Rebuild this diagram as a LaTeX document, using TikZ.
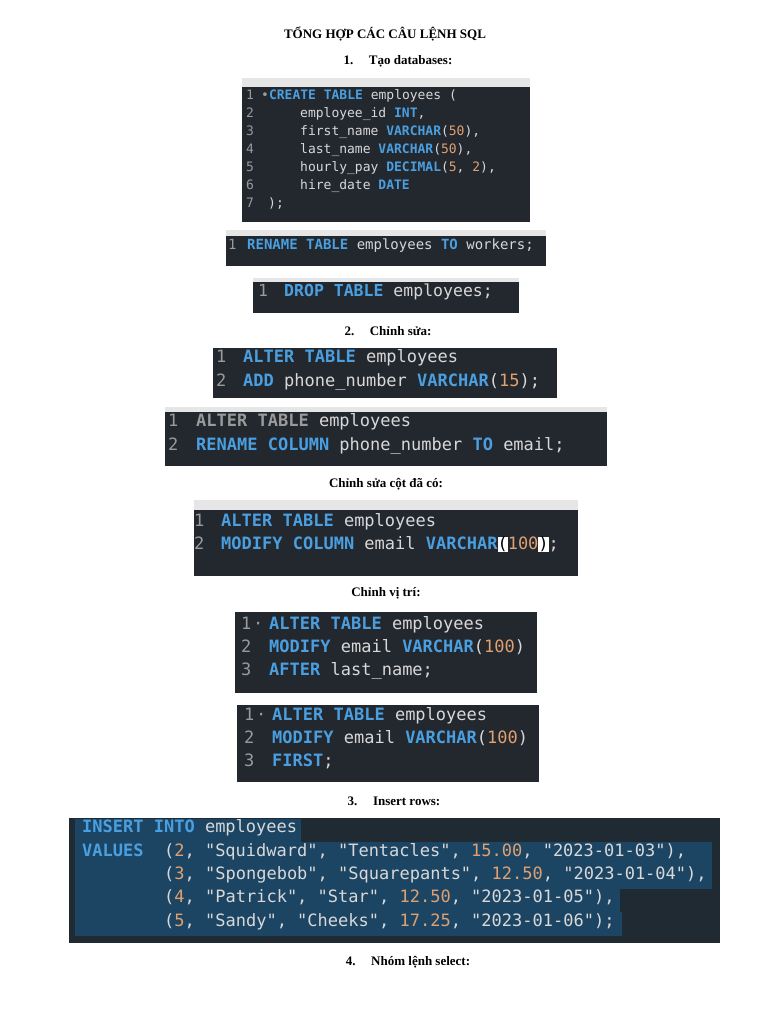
\documentclass[tikz,border=0pt]{standalone}
\usepackage{fontspec}
\setmainfont{Liberation Serif}
\newfontfamily\mono{DejaVu Sans Mono}
\definecolor{bgA}{HTML}{23272E}
\definecolor{bgB}{HTML}{1F2A33}
\definecolor{kw}{HTML}{4A9FE0}
\definecolor{num}{HTML}{E0A070}
\definecolor{txt}{HTML}{D8D8D8}
\definecolor{ln}{HTML}{9A9A9A}
\definecolor{sel}{HTML}{1C4563}
\definecolor{tb}{HTML}{E6E6E6}
\newcommand{\kwd}[1]{\textcolor{kw}{\bfseries #1}}
\newcommand{\nm}[1]{\textcolor{num}{#1}}
\newcommand{\hlb}[1]{{\setlength{\fboxsep}{0pt}\colorbox{white}{\textcolor{black}{#1}}}}
\tikzset{
  cl/.style={anchor=west,inner sep=0pt,text=txt,font=\mono\fontsize{#1}{#1}\selectfont,text height=0.72em,text depth=0.2em},
  lnum/.style={anchor=west,inner sep=0pt,text=ln,font=\mono\fontsize{#1}{#1}\selectfont,text height=0.72em,text depth=0.2em},
  hd/.style={font=\bfseries\fontsize{13}{13}\selectfont,inner sep=0pt},
}
\begin{document}
\begin{tikzpicture}[x=1pt,y=-1pt]
\useasboundingbox[fill=white] (0,0) rectangle (768,1024);
\node[hd] (title) at (385,34) {TỔNG HỢP CÁC CÂU LỆNH SQL};
\node[hd] (h1) at (398,61) {1.\hspace{1.2em}Tạo databases:};
% block 1
\fill[tb] (242,78) rectangle (530,87);
\fill[bgA] (242,87) rectangle (530,222);
\foreach \i/\y in {1/97,2/115,3/133,4/151,5/169,6/187,7/205}
  \node[lnum=13] (b1n\i) at (246,\y) {\i};
\node[cl=13] (b1l1) at (261,97) {\textcolor{ln}{\textbullet}\kwd{CREATE} \kwd{TABLE} employees (};
\node[cl=13] (b1l2) at (300,115) {employee\_id \kwd{INT},};
\node[cl=13] (b1l3) at (300,133) {first\_name \kwd{VARCHAR}(\nm{50}),};
\node[cl=13] (b1l4) at (300,151) {last\_name \kwd{VARCHAR}(\nm{50}),};
\node[cl=13] (b1l5) at (300,169) {hourly\_pay \kwd{DECIMAL}(\nm{5}, \nm{2}),};
\node[cl=13] (b1l6) at (300,187) {hire\_date \kwd{DATE}};
\node[cl=13] (b1l7) at (268,205) {);};
% block 2
\fill[tb] (226,230) rectangle (546,236);
\fill[bgA] (226,236) rectangle (546,266);
\node[lnum=14] (b2n1) at (228,247) {1};
\node[cl=14] (b2l1) at (247,247) {\kwd{RENAME} \kwd{TABLE} employees \kwd{TO} workers;};
% block 3
\fill[tb] (253,278) rectangle (519,282);
\fill[bgA] (253,282) rectangle (519,313);
\node[lnum=16.5] (b3n1) at (258,294) {1};
\node[cl=16.5] (b3l1) at (284,294) {\kwd{DROP} \kwd{TABLE} employees;};
\node[hd] (h2) at (388,331) {2.\hspace{1.2em}Chỉnh sửa:};
% block 4
\fill[bgA] (213,348) rectangle (557,398);
\node[lnum=17] (b4n1) at (216,360) {1};
\node[lnum=17] (b4n2) at (216,384) {2};
\node[cl=17] (b4l1) at (243,360) {\kwd{ALTER} \kwd{TABLE} employees};
\node[cl=17] (b4l2) at (243,384) {\kwd{ADD} phone\_number \kwd{VARCHAR}(\nm{15});};
% block 5
\fill[tb] (165,407) rectangle (607,412);
\fill[bgA] (165,412) rectangle (607,466);
\node[lnum=17] (b5n1) at (168,424) {1};
\node[lnum=17] (b5n2) at (168,448) {2};
\node[cl=17] (b5l1) at (196,424) {\textcolor{ln}{\bfseries ALTER TABLE} employees};
\node[cl=17] (b5l2) at (196,448) {\kwd{RENAME} \kwd{COLUMN} phone\_number \kwd{TO} email;};
\node[hd] (h3) at (386,484) {Chỉnh sửa cột đã có:};
% block 6
\fill[tb] (194,500) rectangle (578,510);
\fill[bgA] (194,510) rectangle (578,576);
\node[lnum=17] (b6n1) at (194,524) {1};
\node[lnum=17] (b6n2) at (194,547) {2};
\node[cl=17] (b6l1) at (221,524) {\kwd{ALTER} \kwd{TABLE} employees};
\node[cl=17] (b6l2) at (221,547) {\kwd{MODIFY} \kwd{COLUMN} email \kwd{VARCHAR}\hlb{(}\nm{100}\hlb{)};};
\node[hd] (h4) at (386,593) {Chỉnh vị trí:};
% block 7
\fill[bgA] (235,612) rectangle (537,693);
\foreach \i/\y in {1/627,2/650,3/673} \node[lnum=17] (b7n\i) at (241,\y) {\i};
\node[cl=17] (b7d) at (253,627) {\textcolor{ln}{\textperiodcentered}};
\node[cl=17] (b7l1) at (269,627) {\kwd{ALTER} \kwd{TABLE} employees};
\node[cl=17] (b7l2) at (269,650) {\kwd{MODIFY} email \kwd{VARCHAR}(\nm{100})};
\node[cl=17] (b7l3) at (269,673) {\kwd{AFTER} last\_name;};
% block 8
\fill[bgA] (237,705) rectangle (539,782);
\foreach \i/\y in {1/718,2/741,3/764} \node[lnum=17] (b8n\i) at (244,\y) {\i};
\node[cl=17] (b8d) at (256,718) {\textcolor{ln}{\textperiodcentered}};
\node[cl=17] (b8l1) at (272,718) {\kwd{ALTER} \kwd{TABLE} employees};
\node[cl=17] (b8l2) at (272,741) {\kwd{MODIFY} email \kwd{VARCHAR}(\nm{100})};
\node[cl=17] (b8l3) at (272,764) {\kwd{FIRST};};
\node[hd] (h5) at (394,801) {3.\hspace{1.2em}Insert rows:};
% block 9
\fill[bgB] (69,818) rectangle (720,943);
\fill[sel] (75,819) rectangle (301,842);
\fill[sel] (75,842) rectangle (712,936);
\fill[bgB] (620,889) rectangle (720,912);
\fill[bgB] (622,912) rectangle (720,936);
\node[cl=17] (b9l1) at (82,830) {\kwd{INSERT} \kwd{INTO} employees};
\node[cl=17] (b9l2) at (82,854) {\kwd{VALUES}\ \ (\nm{2}, "Squidward", "Tentacles", \nm{15.00}, "2023-01-03"),};
\node[cl=17] (b9l3) at (164,877) {(\nm{3}, "Spongebob", "Squarepants", \nm{12.50}, "2023-01-04"),};
\node[cl=17] (b9l4) at (164,900) {(\nm{4}, "Patrick", "Star", \nm{12.50}, "2023-01-05"),};
\node[cl=17] (b9l5) at (164,924) {(\nm{5}, "Sandy", "Cheeks", \nm{17.25}, "2023-01-06");};
\node[hd] (h6) at (408,962) {4.\hspace{1.2em}Nhóm lệnh select:};
\end{tikzpicture}
\end{document}
